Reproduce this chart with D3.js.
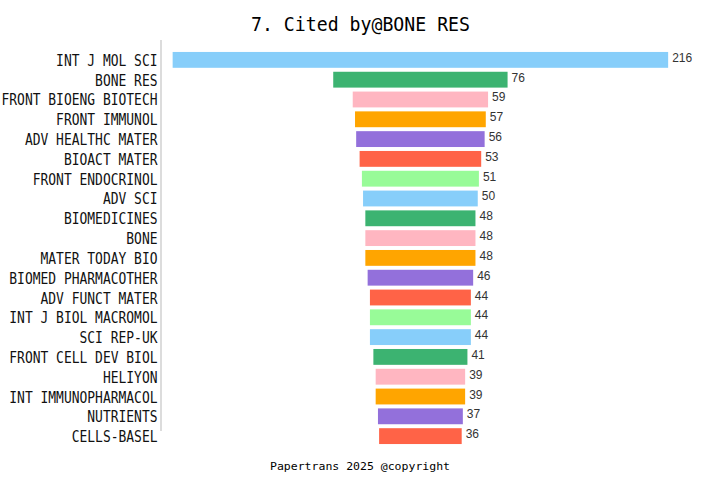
<!DOCTYPE html>
<html>
<head>
<meta charset="utf-8">
<script src="https://cdn.jsdelivr.net/npm/d3@7"></script>
<style>
    body { margin: 0; background: #fff; }
</style>
</head>
<body>
<div id="chart"></div>
<script>
// data
const journals = ["INT J MOL SCI", "BONE RES", "FRONT BIOENG BIOTECH", "FRONT IMMUNOL",
    "ADV HEALTHC MATER", "BIOACT MATER", "FRONT ENDOCRINOL", "ADV SCI", "BIOMEDICINES",
    "BONE", "MATER TODAY BIO", "BIOMED PHARMACOTHER", "ADV FUNCT MATER", "INT J BIOL MACROMOL",
    "SCI REP-UK", "FRONT CELL DEV BIOL", "HELIYON", "INT IMMUNOPHARMACOL", "NUTRIENTS", "CELLS-BASEL"];
const citations = [216, 76, 59, 57, 56, 53, 51, 50, 48, 48, 48, 46, 44, 44, 44, 41, 39, 39, 37, 36];
const palette = ["#87CEFA", "#3CB371", "#FFB6C1", "#FFA500", "#9370DB", "#FF6347", "#98FB98"];
const title = "7. Cited by@BONE RES";
const footer = "Papertrans 2025 @copyright";

const W = 720, H = 480;
const centerX = 420.4;
const monoFont = "'DejaVu Sans Mono', monospace";

const svg = d3.select("#chart").append("svg")
    .attr("width", W)
    .attr("height", H);

//scales
const y = d3.scaleBand()
    .domain(journals)
    .range([48, 448])
    .padding(0.2);

const w = d3.scaleLinear()
    .domain([0, 216])
    .range([0, 495.5]);

const rows = journals.map(function (name, i) {
    return {name: name, value: citations[i], color: palette[i % palette.length]};
});

// left axis line
svg.append("line")
    .attr("x1", 161).attr("x2", 161)
    .attr("y1", 40).attr("y2", 431)
    .attr("stroke", "#dcdcdc")
    .attr("stroke-width", 2);

// bars, centred on one column
svg.selectAll("rect.bar")
    .data(rows)
    .enter().append("rect")
    .attr("class", "bar")
    .attr("x", d => centerX - w(d.value) / 2)
    .attr("y", d => y(d.name))
    .attr("width", d => w(d.value))
    .attr("height", y.bandwidth())
    .attr("fill", d => d.color);

// journal names
svg.selectAll("text.name")
    .data(rows)
    .enter().append("text")
    .attr("class", "name")
    .attr("x", 157.5)
    .attr("y", d => y(d.name) + y.bandwidth() / 2 + 6)
    .attr("text-anchor", "end")
    .attr("font-family", monoFont)
    .attr("font-size", 16)
    .attr("fill", "#111")
    .attr("textLength", d => d.name.length * 7.8)
    .attr("lengthAdjust", "spacingAndGlyphs")
    .text(d => d.name);

// value labels
svg.selectAll("text.val")
    .data(rows)
    .enter().append("text")
    .attr("class", "val")
    .attr("x", d => centerX + w(d.value) / 2 + 4)
    .attr("y", d => y(d.name) + y.bandwidth() / 2 + 2)
    .attr("font-family", "'Liberation Sans', Arial, sans-serif")
    .attr("font-size", 12)
    .attr("fill", "#333")
    .text(d => d.value);

svg.append("text")
    .attr("x", 360.5)
    .attr("y", 31)
    .attr("text-anchor", "middle")
    .attr("font-family", monoFont)
    .attr("font-size", 19)
    .attr("fill", "#000")
    .attr("textLength", 219)
    .attr("lengthAdjust", "spacingAndGlyphs")
    .text(title);

svg.append("text")
    .attr("x", 360)
    .attr("y", 470)
    .attr("text-anchor", "middle")
    .attr("font-family", monoFont)
    .attr("font-size", 11)
    .attr("fill", "#000")
    .attr("textLength", 180)
    .attr("lengthAdjust", "spacingAndGlyphs")
    .text(footer);
</script>
</body>
</html>
